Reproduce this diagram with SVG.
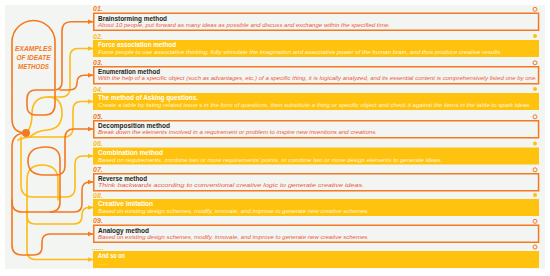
<svg xmlns="http://www.w3.org/2000/svg" width="550" height="276" viewBox="0 0 550 276">
<style>
text{font-family:"Liberation Sans",Arial,sans-serif}
.num{font-style:italic;font-weight:bold;font-size:7px}
.no{fill:#f47920}
.ny{fill:#fdbb13}
.t{font-weight:bold;font-size:6.5px}
.d{font-style:italic;font-size:5.6px}
.to{fill:#231f20}
.do{fill:#ec5a3c}
.ty{fill:#ffffff}
.dy{fill:#fff6dc}
.bo{fill:#f3f5f2;stroke:#f47920;stroke-width:1.5}
.by{fill:#ffc20e}
.co{fill:#f3f5f2;stroke:#f47920;stroke-width:1}
.cy{fill:#ffc20e}
.lo{fill:none;stroke:#f47920;stroke-width:1.6;stroke-linecap:round}
.ly{fill:none;stroke:#fdbb13;stroke-width:1.6;stroke-linecap:round}
.title{font-style:italic;font-weight:bold;font-size:7.6px;fill:#f47920}
</style>
<defs>
<marker id="ao" markerUnits="userSpaceOnUse" markerWidth="6" markerHeight="6" viewBox="0 0 6 6" refX="5.5" refY="3" orient="auto"><path d="M0,0.5 L6,3 L0,5.5 Z" fill="#f47920"/></marker>
<marker id="ay" markerUnits="userSpaceOnUse" markerWidth="6" markerHeight="6" viewBox="0 0 6 6" refX="5.5" refY="3" orient="auto"><path d="M0,0.5 L6,3 L0,5.5 Z" fill="#fdbb13"/></marker>
</defs>
<rect x="0" y="0" width="550" height="276" fill="#ffffff"/>
<rect x="5" y="5" width="540" height="264" fill="#f3f5f2"/>

<g id="connectors">
<path class="ly" d="M26,133 Q32,128 32,114 Q32,97 48,97 H61 Q70,97 70,88 V57 Q70,48.5 78,48.5 H93" marker-end="url(#ay)"/>
<path class="ly" d="M48,97 Q62,97 62,113 Q62,129 47,130 Q36,131 30,137"/>
<path class="ly" d="M18,140 Q24,137 34,137 H64 Q73,137 73,128 V110 Q73,101.5 81,101.5 H93" marker-end="url(#ay)"/>
<path class="ly" d="M21,137 V185 Q21,197 33,197 H66 Q75,197 75,188 V164 Q75,156 83,156 H93" marker-end="url(#ay)"/>
<path class="ly" d="M58,200 V180 Q58,165 42,165 Q27,165 27,180 V216 Q27,224 35,224 H74 Q82,224 82,216 V215 Q82,207.5 89,207.5 H93" marker-end="url(#ay)"/>
<path class="ly" d="M27,210 V251 Q27,259.5 36,259.5 H93" marker-end="url(#ay)"/>
<path class="lo" d="M26,133 Q12,133 12,119 V42 A21.5,21.5 0 0 1 55,42 V104 Q55,115 45,115 H36 Q27,115 27,106 V99 Q27,90 36,90 H54 Q62,90 62,82 V31 Q62,21.75 71,21.75 H93" marker-end="url(#ao)"/>
<path class="lo" d="M60,90 H69 Q77,90 77,83 Q77,75.25 84,75.25 H93" marker-end="url(#ao)"/>
<path class="lo" d="M50,212 Q60,212 60,202 V160 Q60,147 46,147 Q28,147 28,161 Q28,175 44,175 H56 Q65,175 65,166 V138 Q65,129 74,129 H93" marker-end="url(#ao)"/>
<path class="lo" d="M26,133 Q12,133 12,147 V202 Q12,212 22,212 H74 Q82,212 82,204 V190 Q82,182 90,182 H93" marker-end="url(#ao)"/>
<path class="lo" d="M12,200 V245 Q12,255 22,255 H34 Q42,255 42,247 V242 Q42,234 50,234 H93" marker-end="url(#ao)"/>
</g>

<g id="hub">
<circle cx="26" cy="133" r="4" fill="#f47920"/>
<text class="title" x="33.5" y="50.7" text-anchor="middle" textLength="37" lengthAdjust="spacingAndGlyphs">EXAMPLES</text>
<text class="title" x="33.5" y="60" text-anchor="middle" textLength="34" lengthAdjust="spacingAndGlyphs">OF IDEATE</text>
<text class="title" x="33.5" y="69.3" text-anchor="middle" textLength="31" lengthAdjust="spacingAndGlyphs">METHODS</text>
</g>

<g id="node01">
<text class="num no" x="93" y="11">01.</text>
<rect class="bo" x="93.75" y="13.25" width="444.8" height="17"/>
<circle class="co" cx="535" cy="9.3" r="2"/>
<text class="t to" x="98" y="20.5" textLength="69" lengthAdjust="spacingAndGlyphs">Brainstorming method</text>
<text class="d do" x="98" y="26.6" textLength="292" lengthAdjust="spacingAndGlyphs">About 10 people, put forward as many ideas as possible and discuss and exchange within the specified time.</text>
</g>

<g id="node02">
<text class="num ny" x="93" y="38.5">02.</text>
<rect class="by" x="93" y="40" width="446" height="17"/>
<circle class="cy" cx="535" cy="36" r="2"/>
<text class="t ty" x="98" y="47.3" textLength="78" lengthAdjust="spacingAndGlyphs">Force association method</text>
<text class="d dy" x="98" y="54" textLength="404" lengthAdjust="spacingAndGlyphs">Force people to use associative thinking, fully stimulate the imagination and associative power of the human brain, and thus produce creative results.</text>
</g>

<g id="node03">
<text class="num no" x="93" y="64.5">03.</text>
<rect class="bo" x="93.75" y="66.75" width="444.8" height="17"/>
<circle class="co" cx="535" cy="62.8" r="2"/>
<text class="t to" x="98" y="74" textLength="62" lengthAdjust="spacingAndGlyphs">Enumeration method</text>
<text class="d do" x="98" y="80.2" textLength="439" lengthAdjust="spacingAndGlyphs">With the help of a specific object (such as advantages, etc.) of a specific thing, it is logically analyzed, and its essential content is comprehensively listed one by one.</text>
</g>

<g id="node04">
<text class="num ny" x="93" y="91.5">04.</text>
<rect class="by" x="93" y="93" width="446" height="17"/>
<circle class="cy" cx="535" cy="89" r="2"/>
<text class="t ty" x="98" y="100.3" textLength="100" lengthAdjust="spacingAndGlyphs">The method of Asking questions.</text>
<text class="d dy" x="98" y="107" textLength="433" lengthAdjust="spacingAndGlyphs">Create a table by listing related issue s in the form of questions, then substitute a thing or specific object and check it against the items in the table to spark ideas.</text>
</g>

<g id="node05">
<text class="num no" x="93" y="118.5">05.</text>
<rect class="bo" x="93.75" y="120.75" width="444.8" height="17"/>
<circle class="co" cx="535" cy="116.8" r="2"/>
<text class="t to" x="98" y="128" textLength="72" lengthAdjust="spacingAndGlyphs">Decomposition method</text>
<text class="d do" x="98" y="134.2" textLength="279" lengthAdjust="spacingAndGlyphs">Break down the elements involved in a requirement or problem to inspire new inventions and creations.</text>
</g>

<g id="node06">
<text class="num ny" x="93" y="146">06.</text>
<rect class="by" x="93" y="147.5" width="446" height="17"/>
<circle class="cy" cx="535" cy="143.5" r="2"/>
<text class="t ty" x="98" y="154.8" textLength="65" lengthAdjust="spacingAndGlyphs">Combination method</text>
<text class="d dy" x="98" y="161.5" textLength="344" lengthAdjust="spacingAndGlyphs">Based on requirements, combine two or more requirements' points, or combine two or more design elements to generate ideas.</text>
</g>

<g id="node07">
<text class="num no" x="93" y="171.5">07.</text>
<rect class="bo" x="93.75" y="173.75" width="444.8" height="17"/>
<circle class="co" cx="535" cy="169.8" r="2"/>
<text class="t to" x="98" y="181" textLength="49" lengthAdjust="spacingAndGlyphs">Reverse method</text>
<text class="d do" x="98" y="187.2" textLength="266" lengthAdjust="spacingAndGlyphs">Think backwards according to conventional creative logic to generate creative ideas.</text>
</g>

<g id="node08">
<text class="num ny" x="93" y="197.5">08.</text>
<rect class="by" x="93" y="199" width="446" height="17"/>
<circle class="cy" cx="535" cy="195" r="2"/>
<text class="t ty" x="98" y="206.3" textLength="55" lengthAdjust="spacingAndGlyphs">Creative imitation</text>
<text class="d dy" x="98" y="213" textLength="271" lengthAdjust="spacingAndGlyphs">Based on existing design schemes, modify, innovate, and improve to generate new creative schemes.</text>
</g>

<g id="node09">
<text class="num no" x="93" y="223">09.</text>
<rect class="bo" x="93.75" y="225.25" width="444.8" height="17"/>
<circle class="co" cx="535" cy="221.3" r="2"/>
<text class="t to" x="98" y="232.5" textLength="51" lengthAdjust="spacingAndGlyphs">Analogy method</text>
<text class="d do" x="98" y="238.7" textLength="271" lengthAdjust="spacingAndGlyphs">Based on existing design schemes, modify, innovate, and improve to generate new creative schemes.</text>
</g>

<g id="node10">
<text class="num ny" x="92" y="249.5">......</text>
<rect class="by" x="93" y="251" width="446" height="17"/>
<circle class="co" cx="535" cy="247" r="2"/>
<text class="t ty" x="98" y="258.3" textLength="27" lengthAdjust="spacingAndGlyphs">And so on</text>
<text class="d dy" x="98" y="265">......</text>
</g>
</svg>
